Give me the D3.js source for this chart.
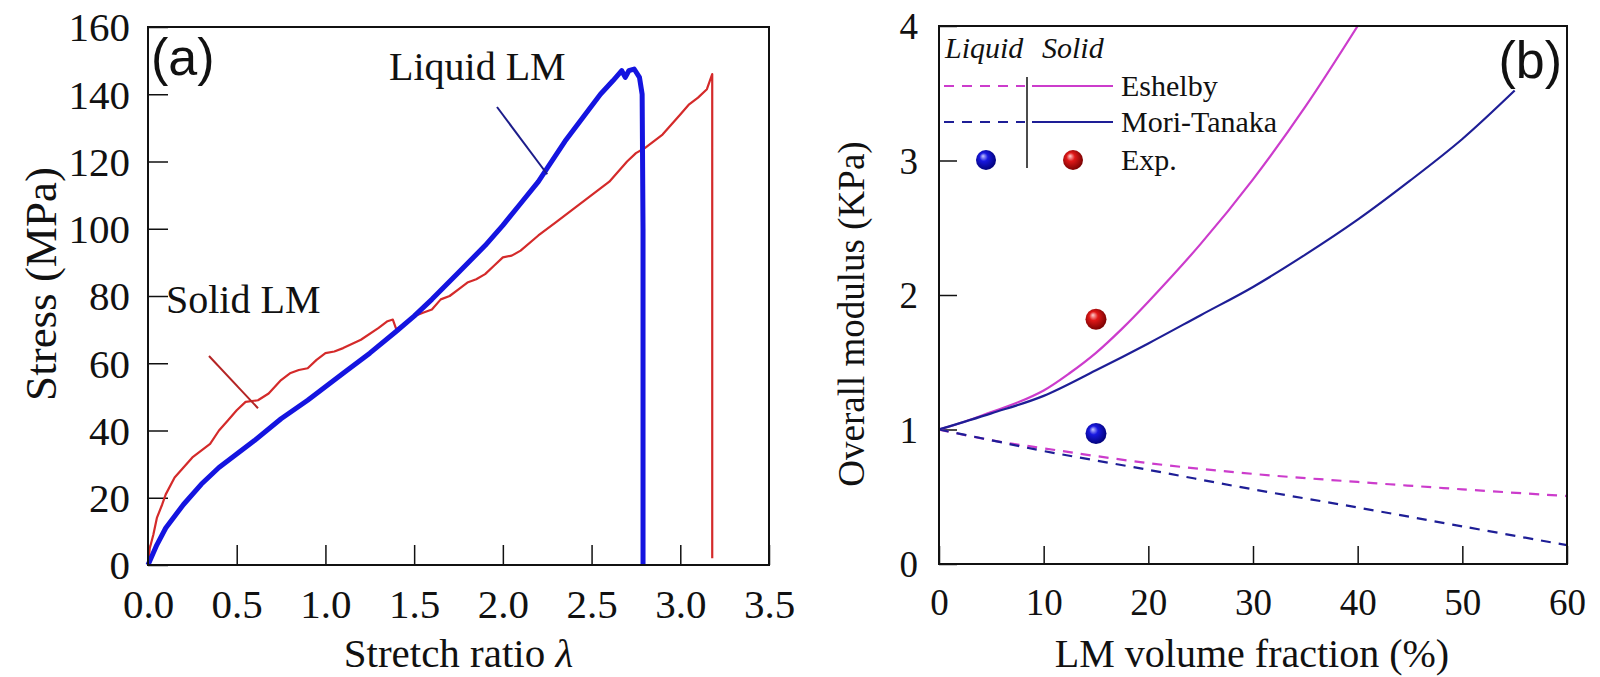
<!DOCTYPE html>
<html lang="en">
<head>
    <meta charset="UTF-8">
    <title>Stress and modulus of LM composites</title>
    <script type="text/javascript" src="https://cdn.jsdelivr.net/npm/d3@7/dist/d3.min.js"></script>
    <style>
        body { margin: 0; background: #fff; }
        svg text { font-family: "Liberation Serif", "Times New Roman", serif; fill: #111; }
    </style>
</head>
<body>
<script>
    // panel (a): stress-stretch curves
    var liquidStretch = [0, 0.05, 0.1, 0.2, 0.3, 0.4, 0.5, 0.6, 0.75, 0.9, 1.0, 1.1, 1.25, 1.4, 1.5,
        1.6, 1.75, 1.9, 2.0, 2.1, 2.2, 2.25, 2.35, 2.45, 2.55, 2.62, 2.67, 2.69, 2.71, 2.74,
        2.77, 2.785, 2.79, 2.79];
    var liquidStress = [0, 6, 11, 18, 24, 29, 33, 37, 43.5, 49, 53, 57, 63, 69.5, 74,
        79, 87, 95, 101, 107.5, 114, 118, 126, 133, 140, 144, 147, 145, 147, 147.5,
        145, 140, 100, 0];
    var solidStretch = [0, 0.01, 0.03, 0.05, 0.08, 0.1, 0.15, 0.2, 0.25, 0.3, 0.35, 0.4, 0.45, 0.5,
        0.55, 0.62, 0.68, 0.75, 0.8, 0.85, 0.9, 0.95, 1.0, 1.05, 1.1, 1.2, 1.3, 1.35, 1.38,
        1.4, 1.45, 1.5, 1.55, 1.6, 1.65, 1.7, 1.75, 1.8, 1.85, 1.9, 1.95, 2.0, 2.05, 2.1,
        2.2, 2.3, 2.4, 2.5, 2.6, 2.7, 2.75, 2.8, 2.9, 3.0, 3.05, 3.1, 3.15, 3.18, 3.18];
    var solidStress = [0, 5, 9, 14, 18, 21, 26, 29, 32, 34, 36, 40, 43, 46,
        48.5, 49, 51, 55, 57, 58, 58.5, 61, 63, 63.5, 64.5, 67, 70.5, 72.5, 73,
        70, 72, 74, 75, 76, 79, 80, 82, 84, 85, 86.5, 89, 91.5, 92, 93.5,
        98, 102, 106, 110, 114, 120, 122.5, 124, 128, 134, 137, 139, 141.5, 146, 2];
    var stretchTicks = [0, 0.5, 1.0, 1.5, 2.0, 2.5, 3.0, 3.5];
    var stressTicks = [0, 20, 40, 60, 80, 100, 120, 140, 160];

    // panel (b): modulus vs LM volume fraction
    var eshelbySolidFrac = [0, 2.5, 5, 7.5, 10, 12.5, 15, 17.5, 20, 25, 30, 35, 40];
    var eshelbySolidMod = [1, 1.06, 1.13, 1.2, 1.29, 1.42, 1.57, 1.75, 1.95, 2.38, 2.86, 3.4, 4.0];
    var moriSolidFrac = [0, 5, 10, 15, 20, 25, 30, 35, 40, 45, 50, 55];
    var moriSolidMod = [1, 1.12, 1.25, 1.44, 1.64, 1.85, 2.06, 2.3, 2.56, 2.85, 3.16, 3.52];
    var eshelbyLiquidFrac = [0, 5, 10, 20, 30, 40, 50, 60];
    var eshelbyLiquidMod = [1, 0.92, 0.86, 0.75, 0.67, 0.61, 0.555, 0.505];
    var moriLiquidFrac = [0, 5, 10, 20, 30, 40, 50, 60];
    var moriLiquidMod = [1, 0.92, 0.84, 0.70, 0.555, 0.42, 0.28, 0.14];
    var expFrac = [15, 15];
    var expMod = [0.97, 1.82];
    var expState = ["liquid", "solid"];
    var fracTicks = [0, 10, 20, 30, 40, 50, 60];
    var modTicks = [0, 1, 2, 3, 4];

    var W = 1600, H = 677;
    var SERIF = "'Liberation Serif', 'Times New Roman', serif";
    var svg = d3.select("body").append("svg")
        .attr("width", W)
        .attr("height", H);

    var defs = svg.append("defs");
    function ball(id, light, mid, dark) {
        var g = defs.append("radialGradient").attr("id", id)
            .attr("cx", "45%").attr("cy", "45%").attr("r", "60%")
            .attr("fx", "35%").attr("fy", "30%");
        g.append("stop").attr("offset", "0%").attr("stop-color", light);
        g.append("stop").attr("offset", "35%").attr("stop-color", mid);
        g.append("stop").attr("offset", "100%").attr("stop-color", dark);
    }
    ball("ballBlue", "#c8c8ff", "#1818e0", "#000070");
    ball("ballRed", "#ffd0d0", "#e01818", "#700000");

    function zip(xs, ys) {
        return xs.map(function (x, i) { return [x, ys[i]]; });
    }

    function drawFrame(g, x0, y0, x1, y1) {
        g.append("rect")
            .attr("x", x0).attr("y", y0)
            .attr("width", x1 - x0).attr("height", y1 - y0)
            .attr("fill", "none")
            .attr("stroke", "#111")
            .attr("stroke-width", 2);
    }

    function styleAxis(sel, fontSize) {
        sel.attr("font-family", null).attr("font-size", null);
        sel.select(".domain").remove();
        sel.selectAll(".tick line").attr("stroke", "#111").attr("stroke-width", 1.5);
        sel.selectAll(".tick text")
            .style("font-family", SERIF)
            .style("font-size", fontSize + "px")
            .attr("fill", "#111");
    }

    // ---------- panel (a) ----------
    var aL = 148, aR = 769, aT = 27, aB = 565;
    var xA = d3.scaleLinear().domain([0, 3.5]).range([aL, aR]);
    var yA = d3.scaleLinear().domain([0, 160]).range([aB, aT]);
    var gA = svg.append("g");

    var xAxisA = gA.append("g")
        .attr("transform", "translate(0," + aB + ")")
        .call(d3.axisBottom(xA).tickValues(stretchTicks)
            .tickFormat(d3.format(".1f"))
            .tickSizeInner(-20).tickSizeOuter(0).tickPadding(24));
    styleAxis(xAxisA, 41);

    var yAxisA = gA.append("g")
        .attr("transform", "translate(" + aL + ",0)")
        .call(d3.axisLeft(yA).tickValues(stressTicks)
            .tickSizeInner(-20).tickSizeOuter(0).tickPadding(18));
    styleAxis(yAxisA, 41);
    yAxisA.selectAll(".tick text").attr("dy", "0.34em");

    var lineA = d3.line()
        .x(function (d) { return xA(d[0]); })
        .y(function (d) { return yA(d[1]); });

    gA.append("path")
        .datum(zip(solidStretch, solidStress))
        .attr("d", lineA)
        .attr("fill", "none")
        .attr("stroke", "#d42a2a")
        .attr("stroke-width", 2.2)
        .attr("stroke-linejoin", "round");

    gA.append("path")
        .datum(zip(liquidStretch, liquidStress))
        .attr("d", lineA)
        .attr("fill", "none")
        .attr("stroke", "#1414e0")
        .attr("stroke-width", 5)
        .attr("stroke-linejoin", "round");

    drawFrame(gA, aL, aT, aR, aB);

    // annotations
    gA.append("text").text("Liquid LM")
        .attr("x", 389).attr("y", 80)
        .attr("font-size", "40px");
    gA.append("line")
        .attr("x1", 497).attr("y1", 107)
        .attr("x2", xA(2.25)).attr("y2", yA(118) + 6)
        .attr("stroke", "#1c1c8a").attr("stroke-width", 2);
    gA.append("text").text("Solid LM")
        .attr("x", 166).attr("y", 313)
        .attr("font-size", "40px");
    gA.append("line")
        .attr("x1", 209).attr("y1", 356)
        .attr("x2", xA(0.62)).attr("y2", yA(49) + 8)
        .attr("stroke", "#b42424").attr("stroke-width", 2);
    gA.append("text").text("(a)")
        .attr("x", 151).attr("y", 75)
        .style("font-family", "'Liberation Sans', Arial, sans-serif")
        .attr("font-size", "52px");

    gA.append("text")
        .attr("x", (aL + aR) / 2).attr("y", 667)
        .attr("text-anchor", "middle")
        .attr("font-size", "41px")
        .html("Stretch ratio <tspan font-style='italic'>λ</tspan>");
    gA.append("text").text("Stress (MPa)")
        .attr("transform", "translate(56,284) rotate(-90)")
        .attr("text-anchor", "middle")
        .attr("font-size", "45px");

    // ---------- panel (b) ----------
    var bL = 939, bR = 1567, bT = 26, bB = 564;
    var xB = d3.scaleLinear().domain([0, 60]).range([bL, bR]);
    var yB = d3.scaleLinear().domain([0, 4]).range([bB, bT]);
    var gB = svg.append("g");

    var clip = defs.append("clipPath").attr("id", "clipB");
    clip.append("rect").attr("x", bL).attr("y", bT).attr("width", bR - bL).attr("height", bB - bT);

    var xAxisB = gB.append("g")
        .attr("transform", "translate(0," + bB + ")")
        .call(d3.axisBottom(xB).tickValues(fracTicks)
            .tickFormat(d3.format("d"))
            .tickSizeInner(-18).tickSizeOuter(0).tickPadding(25));
    styleAxis(xAxisB, 37);

    var yAxisB = gB.append("g")
        .attr("transform", "translate(" + bL + ",0)")
        .call(d3.axisLeft(yB).tickValues(modTicks)
            .tickFormat(d3.format("d"))
            .tickSizeInner(-18).tickSizeOuter(0).tickPadding(21));
    styleAxis(yAxisB, 37);
    yAxisB.selectAll(".tick text").attr("dy", "0.34em");

    var lineB = d3.line()
        .curve(d3.curveCatmullRom)
        .x(function (d) { return xB(d[0]); })
        .y(function (d) { return yB(d[1]); });

    var models = [
        { frac: eshelbyLiquidFrac, mod: eshelbyLiquidMod, color: "#cc3ccc", dash: "10,8" },
        { frac: moriLiquidFrac, mod: moriLiquidMod, color: "#1e1e96", dash: "10,8" },
        { frac: eshelbySolidFrac, mod: eshelbySolidMod, color: "#cc3ccc", dash: null },
        { frac: moriSolidFrac, mod: moriSolidMod, color: "#1e1e96", dash: null }
    ];
    gB.append("g").attr("clip-path", "url(#clipB)")
        .selectAll("path")
        .data(models)
        .enter()
        .append("path")
        .attr("d", function (d) { return lineB(zip(d.frac, d.mod)); })
        .attr("fill", "none")
        .attr("stroke", function (d) { return d.color; })
        .attr("stroke-width", 2.2)
        .attr("stroke-dasharray", function (d) { return d.dash; });

    gB.selectAll("circle.exp")
        .data(expFrac)
        .enter()
        .append("circle")
        .attr("class", "exp")
        .attr("cx", function (d) { return xB(d); })
        .attr("cy", function (d, i) { return yB(expMod[i]); })
        .attr("r", 10.5)
        .attr("fill", function (d, i) {
            return expState[i] === "liquid" ? "url(#ballBlue)" : "url(#ballRed)";
        });

    drawFrame(gB, bL, bT, bR, bB);

    // legend
    var leg = gB.append("g");
    leg.append("text").text("Liquid").attr("x", 945).attr("y", 58)
        .attr("font-size", "30px").attr("font-style", "italic");
    leg.append("text").text("Solid").attr("x", 1042).attr("y", 58)
        .attr("font-size", "30px").attr("font-style", "italic");
    var legRows = [
        { label: "Eshelby", color: "#cc3ccc", y: 86 },
        { label: "Mori-Tanaka", color: "#1e1e96", y: 122 }
    ];
    legRows.forEach(function (r) {
        leg.append("line").attr("x1", 944).attr("x2", 1025).attr("y1", r.y).attr("y2", r.y)
            .attr("stroke", r.color).attr("stroke-width", 2.2).attr("stroke-dasharray", "10,8");
        leg.append("line").attr("x1", 1032).attr("x2", 1113).attr("y1", r.y).attr("y2", r.y)
            .attr("stroke", r.color).attr("stroke-width", 2.2);
        leg.append("text").text(r.label).attr("x", 1121).attr("y", r.y + 10)
            .attr("font-size", "30px");
    });
    leg.append("circle").attr("cx", 986).attr("cy", 160).attr("r", 10).attr("fill", "url(#ballBlue)");
    leg.append("circle").attr("cx", 1073).attr("cy", 160).attr("r", 10).attr("fill", "url(#ballRed)");
    leg.append("text").text("Exp.").attr("x", 1121).attr("y", 170).attr("font-size", "30px");
    leg.append("line").attr("x1", 1027).attr("x2", 1027).attr("y1", 77).attr("y2", 168)
        .attr("stroke", "#111").attr("stroke-width", 1.5);

    gB.append("text").text("(b)")
        .attr("x", 1562).attr("y", 78)
        .attr("text-anchor", "end")
        .style("font-family", "'Liberation Sans', Arial, sans-serif")
        .attr("font-size", "52px");

    gB.append("text").text("LM volume fraction (%)")
        .attr("x", 1252).attr("y", 667)
        .attr("text-anchor", "middle")
        .attr("font-size", "40px");
    gB.append("text").text("Overall modulus (KPa)")
        .attr("transform", "translate(864,314) rotate(-90)")
        .attr("text-anchor", "middle")
        .attr("font-size", "37px");
</script>
</body>
</html>
